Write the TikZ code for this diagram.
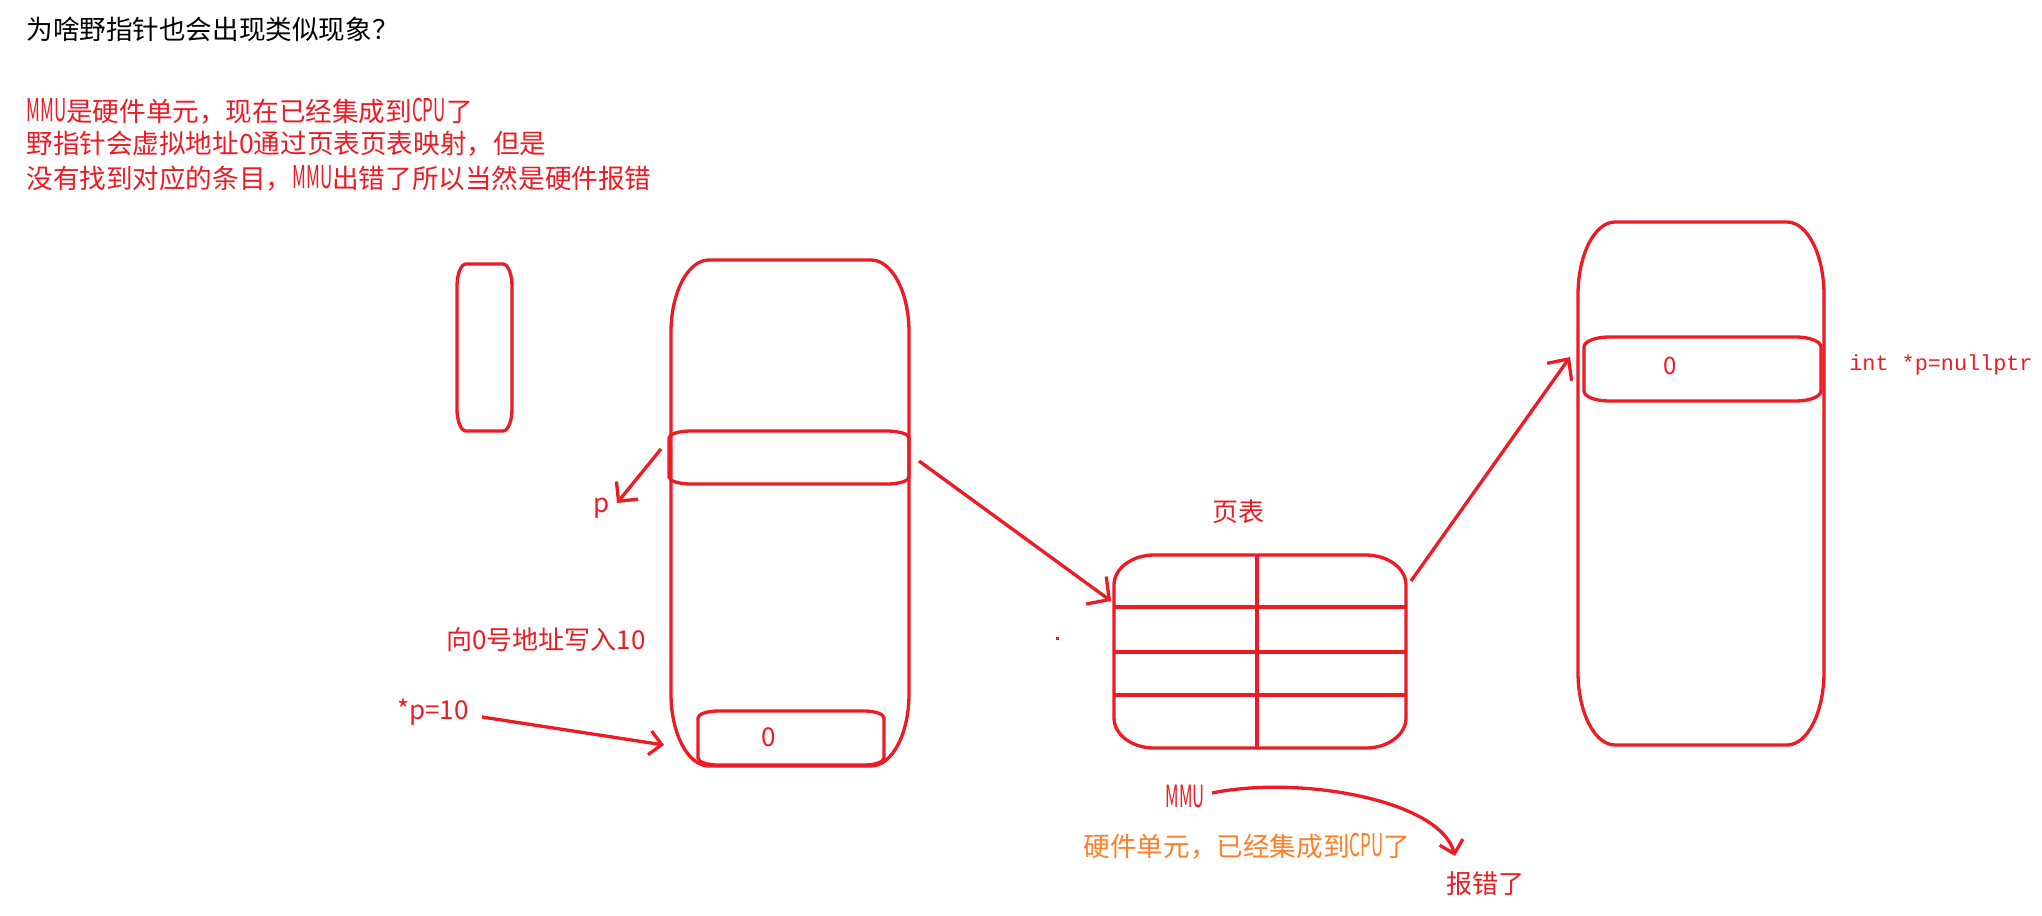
\documentclass[tikz,border=0pt]{standalone}
\usepackage{graphicx}
\usepackage{fontspec}
\newfontfamily\cjk{Noto Sans CJK SC}
\newfontfamily\monof{Liberation Mono}
\newcommand\nl[1]{\scalebox{0.64}[1.18]{#1}}
\usetikzlibrary{arrows.meta}
\definecolor{pred}{HTML}{ED1C24}
\definecolor{porange}{HTML}{FF7F27}
% capsule: [opts]{x1}{y1}{x2}{y2}{rx}{ry}
\newcommand\capsule[7][]{%
\draw[#1] ({#2+#6},#3) -- ({#4-#6},#3)
 .. controls ({#4-0.448*#6},#3) and (#4,{#3+0.448*#7}) .. (#4,{#3+#7})
 -- (#4,{#5-#7})
 .. controls (#4,{#5-0.448*#7}) and ({#4-0.448*#6},#5) .. ({#4-#6},#5)
 -- ({#2+#6},#5)
 .. controls ({#2+0.448*#6},#5) and (#2,{#5-0.448*#7}) .. (#2,{#5-#7})
 -- (#2,{#3+#7})
 .. controls (#2,{#3+0.448*#7}) and ({#2+0.448*#6},#3) .. ({#2+#6},#3) -- cycle;}
\tikzset{
  pen/.style={draw=pred, line width=1.65pt},
  harrow/.style 2 args={pen, -{Straight Barb[length=#1,width=#2]}},
  txt/.style={inner sep=0pt, font=\cjk\fontsize{13pt}{15pt}\selectfont},
  redtxt/.style={txt, text=pred},
  bigtxt/.style={inner sep=0pt, font=\cjk\fontsize{13.3pt}{15pt}\selectfont},
}
\begin{document}
\begin{tikzpicture}[x=0.5pt, y=-0.5pt]
\useasboundingbox (0,0) rectangle (2042,916);
\fill[white] (0,0) rectangle (2042,916);

% texts at top
\node[bigtxt, anchor=west] (title) at (26,29) {为啥野指针也会出现类似现象？};
\node[bigtxt, text=pred, anchor=west] (l1) at (26,111) {\nl{MMU}是硬件单元，现在已经集成到\nl{CPU}了};
\node[bigtxt, text=pred, anchor=west] (l2) at (26,144) {野指针会虚拟地址0通过页表页表映射，但是};
\node[bigtxt, text=pred, anchor=west] (l3) at (26,178) {没有找到对应的条目，\nl{MMU}出错了所以当然是硬件报错};

% small box
\capsule[pen]{457}{264}{512}{431}{9}{22}
% left memory
\capsule[pen]{671}{260}{909}{766}{38}{72}
\capsule[pen]{669}{431}{909}{484}{22}{7}
\capsule[pen]{698}{711}{884}{765}{20}{7}
\node[redtxt] (zeroL) at (769,737) {0};

% p pointer
\coordinate (pA) at (661,449);
\coordinate (pB) at (617,503);
\draw[harrow={7pt}{14pt}] (pA) -- (pB);
\node[redtxt] (plab) at (602,508) {p};

\node[redtxt] (write) at (546,640) {向0号地址写入10};
\node[redtxt] (assign) at (433,712) {*p=10};
\coordinate (aA) at (482,717);
\coordinate (aB) at (664,745);
\draw[harrow={6pt}{12pt}] (aA) -- (aB);

% arrow to page table
\coordinate (bA) at (919,461);
\coordinate (bB) at (1111,601);
\draw[harrow={8pt}{17pt}] (bA) -- (bB);

% stray dot
\fill[pred] (1055.5,636.5) rectangle (1058.5,639.5);

% page table
\node[redtxt] (ptlab) at (1238,512) {页表};
\capsule[pen]{1114}{555}{1406}{748}{40}{30}
\draw[pen] (1257,555) -- (1257,748);
\draw[pen] (1114,607) -- (1407,607);
\draw[pen] (1114,652) -- (1406,652);
\draw[pen] (1114,695) -- (1406,695);

% arrow to physical memory
\coordinate (cA) at (1411,581);
\coordinate (cB) at (1570,357);
\draw[harrow={8pt}{15pt}] (cA) -- (cB);

% right memory
\capsule[pen]{1578}{222}{1824}{745}{37}{73}
\capsule[pen]{1584}{337}{1821}{401}{25}{10}
\node[redtxt, font=\cjk\fontsize{12pt}{14pt}\selectfont] (zeroR) at (1670,366) {0};
\node[anchor=west, inner sep=0pt, text=pred, font=\monof\fontsize{10.9pt}{13pt}\selectfont] (decl) at (1849,365) {int *p=nullptr};

% MMU
\node[redtxt] (mmu) at (1185,796) {\nl{MMU}};
\coordinate (mA) at (1212,793);
\coordinate (mB) at (1455,856);
\draw[harrow={6pt}{12pt}] (mA) .. controls (1300,775) and (1440,800) .. (mB);
\node[txt, text=porange, font=\cjk\fontsize{13.3pt}{15pt}\selectfont] (hw) at (1247,846) {硬件单元，已经集成到\nl{CPU}了};
\node[redtxt] (err) at (1485,884) {报错了};
\end{tikzpicture}
\end{document}
